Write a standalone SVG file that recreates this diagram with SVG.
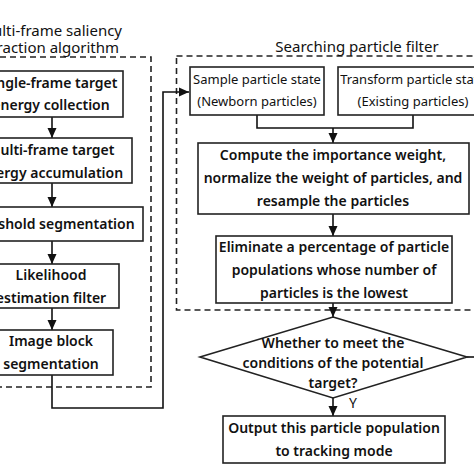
<svg xmlns="http://www.w3.org/2000/svg" width="474" height="474" viewBox="0 0 474 474">
<style>
.box{fill:#fff;stroke:#222;stroke-width:1.6}
.grp{fill:none;stroke:#222;stroke-width:1.6;stroke-dasharray:6,4}
.ln{fill:none;stroke:#111;stroke-width:1.6}
text{font-family:"Noto Sans","Open Sans","Noto Sans CJK SC",sans-serif;fill:#111;text-anchor:middle}
.t{font-size:14px;font-weight:600}
.s{font-size:13px;font-weight:400}
.h{font-size:15px;font-weight:400}
.hl{font-size:15px;font-weight:400;text-anchor:end}
</style>
<defs>
<marker id="ah" markerUnits="userSpaceOnUse" markerWidth="10" markerHeight="10" viewBox="0 0 10 10" refX="10" refY="5" orient="auto">
<path d="M0,0.5 L10,5 L0,9.5 Z" fill="#111"/>
</marker>
</defs>
<rect width="474" height="474" fill="#fff"/>
<g id="group-left">
<rect class="grp" x="-10" y="57" width="161" height="330"/>
<text class="hl" x="122" y="36">Multi-frame saliency</text>
<text class="hl" x="119" y="53">extraction algorithm</text>
</g>
<g id="group-right">
<rect class="grp" x="176.5" y="56" width="310" height="254"/>
<text class="h" x="357" y="52">Searching particle filter</text>
</g>
<g id="connectors">
<line class="ln" x1="52" y1="117" x2="52" y2="138" marker-end="url(#ah)"/>
<line class="ln" x1="52" y1="183" x2="52" y2="207" marker-end="url(#ah)"/>
<line class="ln" x1="52" y1="241" x2="52" y2="264" marker-end="url(#ah)"/>
<line class="ln" x1="52" y1="308" x2="52" y2="330" marker-end="url(#ah)"/>
<polyline class="ln" points="52,375 52,408 163,408 163,92 189,92" marker-end="url(#ah)"/>
<polyline class="ln" points="257,115 257,128 413,128 413,115"/>
<line class="ln" x1="333" y1="128" x2="333" y2="143" marker-end="url(#ah)"/>
<line class="ln" x1="333" y1="214" x2="333" y2="236" marker-end="url(#ah)"/>
<line class="ln" x1="333" y1="303" x2="333" y2="317" marker-end="url(#ah)"/>
<line class="ln" x1="333" y1="398" x2="333" y2="416" marker-end="url(#ah)"/>
<line class="ln" x1="467" y1="357" x2="476" y2="357"/>
<text x="353" y="408" style="font-size:14px">Y</text>
</g>
<g id="n1">
<rect class="box" x="-21" y="71" width="144" height="46"/>
<text class="t" x="51" y="88">Single-frame target</text>
<text class="t" x="51" y="110">energy collection</text>
</g>
<g id="n2">
<rect class="box" x="-30" y="138" width="162" height="45"/>
<text class="t" x="51" y="155">Multi-frame target</text>
<text class="t" x="51" y="178">energy accumulation</text>
</g>
<g id="n3">
<rect class="box" x="-41" y="207" width="184" height="34"/>
<text class="t" x="51" y="229">Threshold segmentation</text>
</g>
<g id="n4">
<rect class="box" x="-19" y="264" width="138" height="44"/>
<text class="t" x="51" y="280">Likelihood</text>
<text class="t" x="51" y="303">estimation filter</text>
</g>
<g id="n5">
<rect class="box" x="-13" y="330" width="126" height="45"/>
<text class="t" x="51" y="346">Image block</text>
<text class="t" x="51" y="369">segmentation</text>
</g>
<g id="r1">
<rect class="box" x="190" y="67" width="134" height="48"/>
<text class="s" x="257" y="84">Sample particle state</text>
<text class="s" x="257" y="106">(Newborn particles)</text>
</g>
<g id="r2">
<rect class="box" x="338" y="67" width="150" height="48"/>
<text class="s" x="413" y="84">Transform particle state</text>
<text class="s" x="413" y="106">(Existing particles)</text>
</g>
<g id="r3">
<rect class="box" x="198" y="143" width="271" height="71"/>
<text class="t" x="333" y="160">Compute the importance weight,</text>
<text class="t" x="333" y="183">normalize the weight of particles, and</text>
<text class="t" x="333" y="206">resample the particles</text>
</g>
<g id="r4">
<rect class="box" x="216" y="236" width="236" height="67"/>
<text class="t" x="334" y="252">Eliminate a percentage of particle</text>
<text class="t" x="334" y="275">populations whose number of</text>
<text class="t" x="334" y="298">particles is the lowest</text>
</g>
<g id="r5">
<polygon class="box" points="333,317 467,357 333,398 200,357"/>
<text class="t" x="333" y="348">Whether to meet the</text>
<text class="t" x="333" y="368">conditions of the potential</text>
<text class="t" x="333" y="388">target?</text>
</g>
<g id="r6">
<rect class="box" x="223" y="416" width="222" height="47"/>
<text class="t" x="334" y="433">Output this particle population</text>
<text class="t" x="334" y="456">to tracking mode</text>
</g>
</svg>
